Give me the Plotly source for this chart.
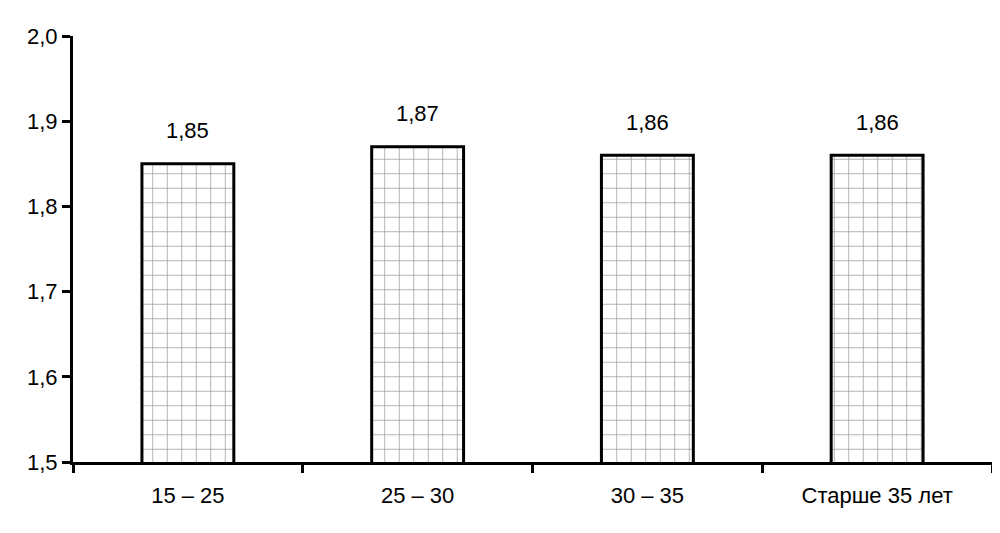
import plotly.graph_objects as go

categories = ["15 – 25", "25 – 30", "30 – 35", "Старше 35 лет"]
values = [1.85, 1.87, 1.86, 1.86]
labels = ["1,85", "1,87", "1,86", "1,86"]

FONT = "Liberation Sans Narrow, Arial Narrow, Liberation Sans, Arial"
FS = 22

fig = go.Figure()
fig.add_trace(go.Bar(
    x=categories, y=values, width=0.4,
    marker=dict(color="white", line=dict(color="black", width=3),
                pattern=dict(shape="+", fgcolor="#333333", bgcolor="white", size=14.5, solidity=0.1)),
))
for c, v, t in zip(categories, values, labels):
    fig.add_annotation(x=c, y=v, text=t, showarrow=False, yshift=33,
                       font=dict(family=FONT, size=FS, color="black"))

fig.update_layout(
    width=992, height=525,
    margin=dict(l=65, r=8, t=28, b=71),
    plot_bgcolor="white", paper_bgcolor="white",
    separators=", ",
    showlegend=False,
    font=dict(family=FONT, size=FS, color="black"),
)
fig.update_xaxes(showline=True, linecolor="black", linewidth=3, ticks="outside", ticklen=8,
                 tickwidth=3, tickcolor="black", tickson="boundaries", showgrid=False,
                 ticklabelstandoff=12, tickfont=dict(family=FONT, size=FS))
fig.update_yaxes(range=[1.5, 2.0], dtick=0.1, tickformat=".1f", showline=True, linecolor="black",
                 linewidth=3, ticks="outside", ticklen=8, tickwidth=3, tickcolor="black",
                 showgrid=False, zeroline=False, tickfont=dict(family=FONT, size=FS))
fig.write_html("out.html")
